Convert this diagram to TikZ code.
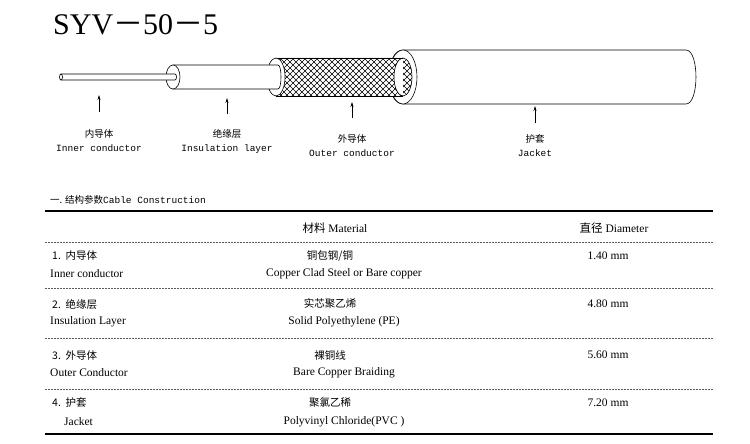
\documentclass[tikz,border=0pt]{standalone}
\usepackage{fontspec}
\setmainfont{Liberation Serif}
\newfontfamily\cjk{Noto Sans CJK SC}
\newfontfamily\mono{Liberation Mono}
\usetikzlibrary{arrows.meta}
\begin{document}
\begin{tikzpicture}[x=1pt,y=-1pt,
  part/.style={draw=black,line width=0.6pt,fill=white},
  lbl/.style={align=center,inner sep=0pt,font=\mono\fontsize{9.5}{14}\selectfont},
  ptr/.style={-{Stealth[length=5pt,width=3pt]},line width=0.6pt},
  cell/.style={inner sep=0pt,font=\fontsize{11.5}{13}\selectfont},
  zh/.style={inner sep=0pt,font=\cjk\fontsize{10.5}{13}\selectfont},
  rowrule/.style={dash pattern=on 2pt off 1pt,line width=0.4pt,gray!70!black},
  heavyrule/.style={line width=1.6pt}]
\useasboundingbox (0,0) rectangle (750,444);
% title
\node[anchor=west,inner sep=0pt,font=\fontsize{30}{32}\selectfont] (title) at (53,25) {SYV{\cjk －}50{\cjk －}5};
% jacket
\draw[part] (403,50) -- (686,50) .. controls (699.3,50) and (699.3,104) .. (686,104) -- (403,104) .. controls (384.3,104) and (384.3,50) .. (403,50) -- cycle;
\draw[part] (403,77) ellipse[x radius=14,y radius=27];
% braid
\begin{scope}
\clip (276,77) ellipse[x radius=9,y radius=19] (276,58) rectangle (403,96) (403,77) ellipse[x radius=9,y radius=19];
\fill[white] (260,50) rectangle (420,104);
\foreach \i in {-60,-54,...,200} {
  \draw[line width=0.4pt] (260+\i,50) -- (314+\i,104);
  \draw[line width=0.4pt] (314+\i,50) -- (260+\i,104);
}
\end{scope}
\draw[line width=0.6pt] (276,58) -- (403,58) (276,96) -- (403,96);
\draw[line width=0.6pt] (403,77) ellipse[x radius=9,y radius=19];
\draw[part] (276,77) ellipse[x radius=9,y radius=19];
% insulation
\draw[part] (173,65) -- (278,65) .. controls (282,65) and (282,89) .. (278,89) -- (173,89) -- cycle;
\draw[part] (173,77) ellipse[x radius=7,y radius=12];
% wire
\draw[part] (61,74) -- (175,74) .. controls (177,74) and (177,80) .. (175,80) -- (61,80) -- cycle;
\draw[part] (61,77) ellipse[x radius=1.5,y radius=3];
% pointers
\coordinate (p1) at (99,95); \coordinate (q1) at (99,112);
\coordinate (p2) at (227,98); \coordinate (q2) at (227,114);
\coordinate (p3) at (352,102); \coordinate (q3) at (352,118);
\coordinate (p4) at (535,106); \coordinate (q4) at (535,123);
\draw[ptr] (q1) -- (p1);
\draw[ptr] (q2) -- (p2);
\draw[ptr] (q3) -- (p3);
\draw[ptr] (q4) -- (p4);
\node[lbl] (l1) at (99,141) {{\cjk 内导体}\\Inner conductor};
\node[lbl] (l2) at (227,141) {{\cjk 绝缘层}\\Insulation layer};
\node[lbl] (l3) at (352,146) {{\cjk 外导体}\\Outer conductor};
\node[lbl] (l4) at (535,146) {{\cjk 护套}\\Jacket};
% table
\node[anchor=west,inner sep=0pt,font=\mono\fontsize{9.5}{12}\selectfont] (sec) at (50,200) {{\cjk 一. 结构参数}Cable  Construction};
\draw[heavyrule] (45,211) -- (713,211);
\node[cell] (h1) at (335,228) {{\cjk 材料} Material};
\node[cell] (h2) at (614,228) {{\cjk 直径} Diameter};
\draw[rowrule] (45,242) -- (713,242);
\node[zh,anchor=west] (r1a) at (52,256) {1.\ \ 内导体};
\node[cell,anchor=west] (r1b) at (50,274) {Inner conductor};
\node[zh] (r1c) at (330,256) {铜包钢/铜};
\node[cell] (r1d) at (344,274) {Copper Clad Steel or Bare copper};
\node[cell] (r1e) at (608,256) {1.40 mm};
\draw[rowrule] (45,288) -- (713,288);
\node[zh,anchor=west] (r2a) at (52,304) {2.\ \ 绝缘层};
\node[cell,anchor=west] (r2b) at (50,322) {Insulation Layer};
\node[zh] (r2c) at (330,304) {实芯聚乙烯};
\node[cell] (r2d) at (344,322) {Solid Polyethylene (PE)};
\node[cell] (r2e) at (608,304) {4.80 mm};
\draw[rowrule] (45,338) -- (713,338);
\node[zh,anchor=west] (r3a) at (52,355) {3.\ \ 外导体};
\node[cell,anchor=west] (r3b) at (50,373) {Outer Conductor};
\node[zh] (r3c) at (330,355) {裸铜线};
\node[cell] (r3d) at (344,373) {Bare Copper Braiding};
\node[cell] (r3e) at (608,355) {5.60 mm};
\draw[rowrule] (45,389) -- (713,389);
\node[zh,anchor=west] (r4a) at (52,403) {4.\ \ 护套};
\node[cell,anchor=west] (r4b) at (64,422) {Jacket};
\node[zh] (r4c) at (330,403) {聚氯乙稀};
\node[cell] (r4d) at (344,422) {Polyvinyl Chloride(PVC )};
\node[cell] (r4e) at (608,403) {7.20 mm};
\draw[heavyrule] (45,434) -- (713,434);
\end{tikzpicture}
\end{document}
